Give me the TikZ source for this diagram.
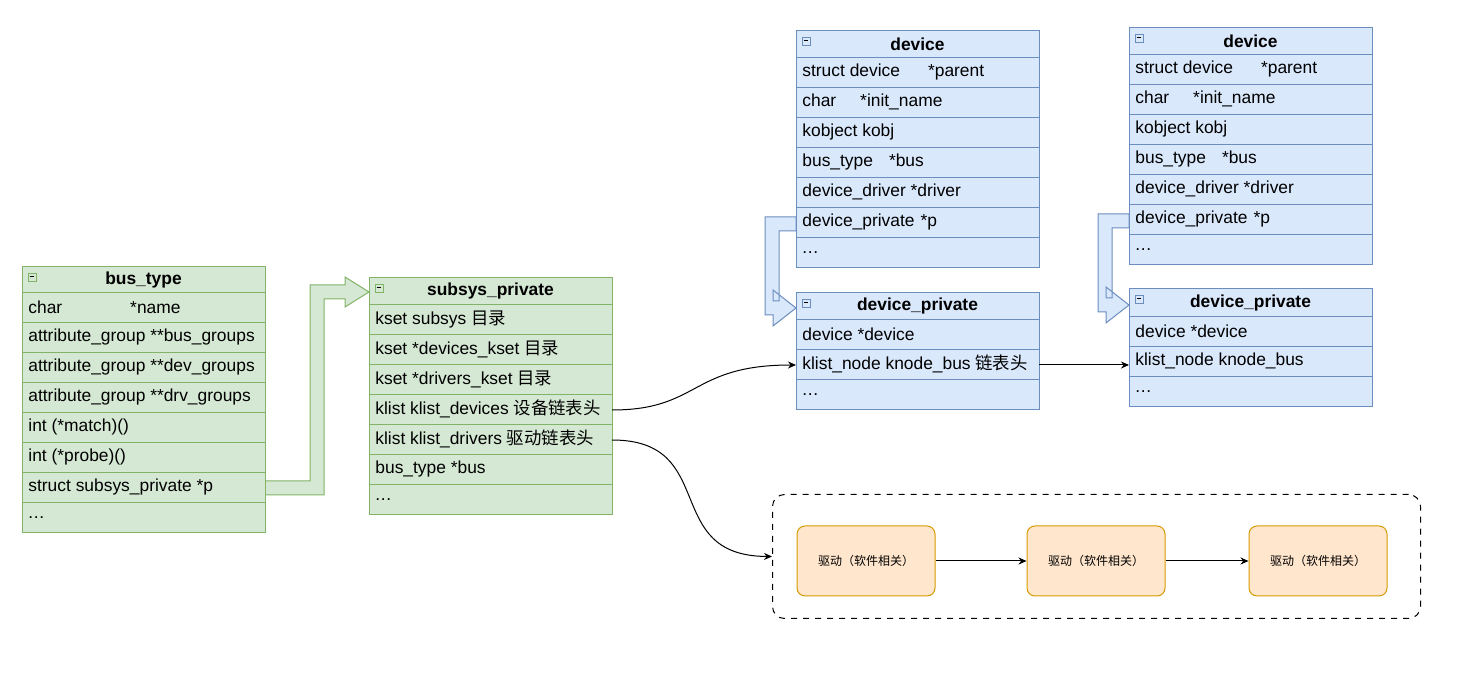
\documentclass[tikz,border=0pt]{standalone}
\usepackage{fontspec}
\setmainfont{Liberation Sans}
\newfontfamily\cjk{Noto Sans CJK SC}
\usetikzlibrary{arrows.meta,calc}
\definecolor{gfill}{HTML}{D5E8D4}\definecolor{gdraw}{HTML}{82B366}
\definecolor{bfill}{HTML}{DAE8FC}\definecolor{bdraw}{HTML}{6C8EBF}
\definecolor{ofill}{HTML}{FFE6CC}\definecolor{odraw}{HTML}{D79B00}
\newcommand\myd{.\kern0.3pt.\kern0.3pt.}
\tikzset{
 gbox/.style={draw=gdraw,fill=gfill},
 bbox/.style={draw=bdraw,fill=bfill},
 hdr/.style={anchor=north west,minimum width=121.5pt,inner sep=0pt,outer sep=0pt,line width=0.5pt},
 row/.style={anchor=north west,minimum width=121.5pt,minimum height=15pt,inner sep=0pt,outer sep=0pt,line width=0.5pt},
 txt/.style={anchor=west,inner xsep=3pt,inner ysep=0pt},
 conn/.style={line width=0.5pt,-{Stealth[length=4pt,width=3.5pt]}},
 drv/.style={draw=odraw,fill=ofill,rounded corners=4pt,minimum width=69pt,minimum height=35pt,line width=0.5pt,font=\cjk\fontsize{6}{7}\selectfont},
 hollow/.style={line width=0.5pt}
}
\newcommand\classbox[7]{%
 \node[hdr,#7,minimum height=#4*0.5pt] (#1-h) at (#2,#3) {\textbf{#5}};
 \draw[#7,line width=0.4pt] ($(#1-h.north west)+(3pt,-3pt)$) rectangle +(4pt,-4pt);
 \draw[line width=0.5pt] ($(#1-h.north west)+(3.8pt,-5pt)$) -- +(2.4pt,0pt);
 \foreach \rt [count=\ri] in {#6} {
   \pgfmathsetmacro\yy{#3+#4+(\ri-1)*30}
   \node[row,#7] (#1-\ri) at (#2,\yy) {};
   \node[txt] (#1-\ri-t) at ($(#1-\ri.west)+(0,0.4pt)$) {\rt};
 }}
\begin{document}
\begin{tikzpicture}[x=0.5pt,y=-0.5pt,font=\fontsize{8.7}{10}\selectfont]
\fill[white] (0,0) rectangle (1479,673);
\path[use as bounding box] (0,0) rectangle (1479,673);
\draw[hollow,gbox] (265,481) -- (310,481) -- (310,285) -- (345,285) -- (345,277) -- (369,292) -- (345,307) -- (345,299) -- (324,299) -- (324,495) -- (265,495) -- cycle;
\draw[hollow,bbox] (796,217) -- (765,217) -- (765,315) -- (773,315) -- (773,326) -- (796,308) -- (773,290) -- (773,301) -- (779,301) -- (779,231) -- (796,231) -- cycle;
\draw[hollow,bbox] (1129,214) -- (1098,214) -- (1098,312) -- (1106,312) -- (1106,323) -- (1129,305) -- (1106,287) -- (1106,298) -- (1112,298) -- (1112,228) -- (1129,228) -- cycle;
\classbox{bt}{22}{267}{26}{bus\_type}{{char\hspace{34pt}*name},{attribute\_group **bus\_groups},{attribute\_group **dev\_groups},{attribute\_group **drv\_groups},{int (*match)()},{int (*probe)()},{struct subsys\_private *p},{\myd}}{gbox}
\classbox{ss}{369}{278}{27}{subsys\_private}{{kset subsys \cjk{目录}},{kset *devices\_kset \cjk{目录}},{kset *drivers\_kset \cjk{目录}},{klist klist\_devices \cjk{设备链表头}},{klist klist\_drivers \cjk{驱动链表头}},{bus\_type *bus},{\myd}}{gbox}
\classbox{da}{796}{31}{27}{device}{{struct device\hspace{14pt}*parent},{char\hspace{12pt}*init\_name},{kobject kobj},{bus\_type\hspace{8pt}*bus},{device\_driver *driver},{device\_private\hspace{3pt}*p},{\myd}}{bbox}
\classbox{pa}{796}{293}{27}{device\_private}{{device *device},{klist\_node knode\_bus \cjk{链表头}},{\myd}}{bbox}
\classbox{db}{1129}{28}{27}{device}{{struct device\hspace{14pt}*parent},{char\hspace{12pt}*init\_name},{kobject kobj},{bus\_type\hspace{8pt}*bus},{device\_driver *driver},{device\_private\hspace{3pt}*p},{\myd}}{bbox}
\classbox{pb}{1129}{289}{28}{device\_private}{{device *device},{klist\_node knode\_bus},{\myd}}{bbox}
\node[draw,dashed,rounded corners=6pt,line width=0.5pt,minimum width=324pt,minimum height=62pt,anchor=north west,inner sep=0pt] (cont) at (772,494) {};
\node[drv] (r1) at (866,561) {驱动（软件相关）};
\node[drv] (r2) at (1096,561) {驱动（软件相关）};
\node[drv] (r3) at (1318,561) {驱动（软件相关）};
\draw[conn] (r1) -- (r2);
\draw[conn] (r2) -- (r3);
\draw[conn] (ss-4.east) .. controls (700,410) and (690,365) .. (pa-2.west);
\draw[conn] (ss-5.east) .. controls (720,440) and (660,556) .. (cont.west);
\draw[conn] (pa-2.east) -- (pa-2.east -| pb-2.west);
\end{tikzpicture}
\end{document}
